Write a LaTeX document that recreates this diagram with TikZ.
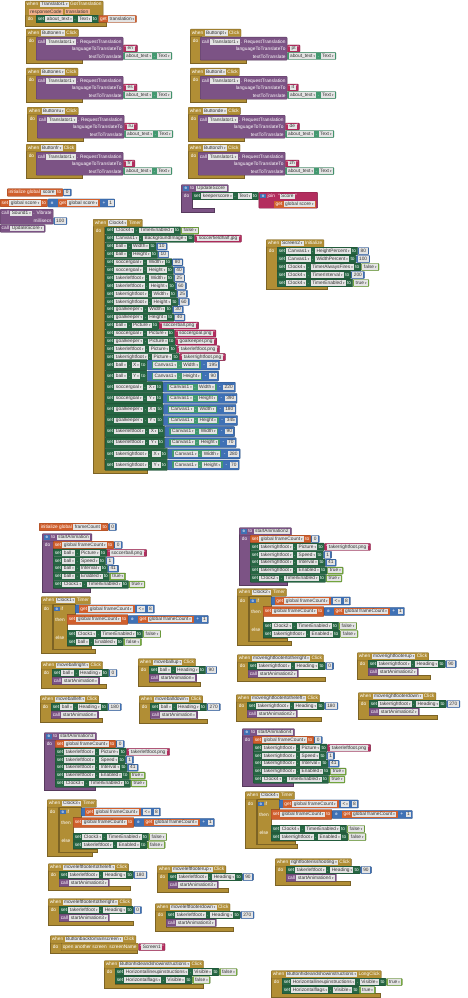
\documentclass[tikz,border=0pt]{standalone}
\usepackage{fontspec}
\usepackage{xcolor}
\usepackage{graphicx}
\usepackage{tikz}
\usetikzlibrary{positioning}
\newfontfamily\aifont{Liberation Sans}
\newfontfamily\dvsym{DejaVu Sans}
\definecolor{aievent}{HTML}{B18E35}
\definecolor{aiproc}{HTML}{7C5385}
\definecolor{aiset}{HTML}{266643}
\definecolor{aiget}{HTML}{439970}
\definecolor{aimath}{HTML}{3F71B5}
\definecolor{aitext}{HTML}{B32D5E}
\definecolor{ailogic}{HTML}{77AB41}
\definecolor{aivar}{HTML}{D05F2D}
\definecolor{aiparam}{HTML}{F2B089}
\definecolor{aifield}{HTML}{E4E4E4}
\definecolor{aifieldtx}{HTML}{333333}

% -- fields: with a dropdown arrow, plain, and a block nested inside a block
\newcommand{\fdd}[1]{{\setlength{\fboxsep}{0.5pt}\colorbox{aifield}{\hspace{1pt}\rule[-1pt]{0pt}{4.4pt}\textcolor{aifieldtx}{#1\hspace{1pt}{\dvsym\scalebox{0.6}{▾}}}\hspace{0.8pt}}}}
\newcommand{\fdv}[1]{{\setlength{\fboxsep}{0.5pt}\colorbox{aifield}{\hspace{1pt}\rule[-1pt]{0pt}{4.4pt}\textcolor{aifieldtx}{#1}\hspace{1pt}}}}
\newcommand{\inblk}[2]{{\setlength{\fboxsep}{0.8pt}\colorbox{#1}{\hspace{0.8pt}#2\hspace{0.8pt}}}}
\newcommand{\aigear}{\inblk{aimath}{\textcolor{white}{\dvsym\scalebox{0.7}{⚙}}}}
\newcommand{\opsp}{\hspace{2.5pt}}

% -- a hat block: column, bottom bar, header, "do"
%    #1 name, #2 x, #3 top, #4 bar right, #5 bottom, #6 y of do, #7 colour, #8 header
\newcommand{\whenblk}[8]{%
  \filldraw[#7, draw=#7!70!black, line width=0.3pt]
    ({#2},{#3+7}) -- ({#2+11},{#3+7}) -- ({#2+11},{#5-3.5}) -- ({#4},{#5-3.5})
    -- ({#4},{#5}) -- ({#2},{#5}) -- cycle;
  \node[hdr=#7] (#1) at ({#2},{#3}) {#8};
  \node[lbl] (#1do) at ({#2+5.5},{#6}) {do};}

% -- the eight translation buttons: name, x, top, button, language, bar right
\newcommand{\transblk}[6]{%
  \whenblk{#1}{#2}{#3}{#6}{#3+34}{#3+12}{aievent}{when \fdd{#4} Click}
  \node[stm=aiproc, anchor=north west, align=right, minimum height=23pt,
        font=\aifont\fontsize{4.8}{7.5}\selectfont] (#1c) at ({#2+10},{#3+8})
    {call \fdd{Translator1} . RequestTranslation\\ languageToTranslateTo\\ textToTranslate};
  \node[val=aitext] (#1l) at (#1c.east |- 0,{#3+19.5}) {“\fdv{#5}”};
  \node[val=aiget] (#1t) at (#1c.east |- 0,{#3+27}) {\fdd{about\_text} . \fdd{Text}};}

% -- heading buttons: set heading, call a procedure
\newcommand{\clickblk}[9]{%
  \whenblk{#1}{#2}{#3-11.5}{#4}{#5}{#3}{aievent}{when \fdd{#6} Click}
  \node[stm=aiset] (#1s) at ({#2+11},{#3}) {set \fdd{#7} . \fdd{Heading} to};
  \node[val=aimath, right=0pt of #1s] (#1v) {\fdv{#8}};
  \node[stm=aiproc] (#1p) at ({#2+11},{#3+7.9}) {call \fdd{#9}};}

% -- startAnimation procedures
\newcommand{\animblk}[9]{%
  \whenblk{#1}{#2}{#3-11.5}{#4}{#5}{#3}{aiproc}{\aigear\ to \fdv{#6}}
  \node[stm=aivar] (#1a) at ({#2+11},{#3}) {set \fdd{global frameCount} to};
  \node[val=aimath, right=0pt of #1a] (#1av) {\fdv{0}};
  \node[stm=aiset] (#1b) at ({#2+11},{#3+7.9}) {set \fdd{#7} . \fdd{Picture} to};
  \node[val=aitext, right=0pt of #1b] (#1bv) {“\fdv{#8}”};
  \node[stm=aiset] (#1c) at ({#2+11},{#3+15.8}) {set \fdd{#7} . \fdd{Speed} to};
  \node[val=aimath, right=0pt of #1c] (#1cv) {\fdv{1}};
  \node[stm=aiset] (#1e) at ({#2+11},{#3+23.7}) {set \fdd{#7} . \fdd{Interval} to};
  \node[val=aimath, right=0pt of #1e] (#1ev) {\fdv{41}};
  \node[stm=aiset] (#1f) at ({#2+11},{#3+31.6}) {set \fdd{#7} . \fdd{Enabled} to};
  \node[val=ailogic, right=0pt of #1f] (#1fv) {\fdd{true}};
  \node[stm=aiset] (#1g) at ({#2+11},{#3+39.5}) {set \fdd{#9} . \fdd{TimerEnabled} to};
  \node[val=ailogic, right=0pt of #1g] (#1gv) {\fdd{true}};}

% -- clock timers with the if / then / else
\newcommand{\timerblk}[6]{%
  \whenblk{#1}{#2}{#3-12.5}{#4}{#3+44}{#3}{aievent}{when \fdd{#5} Timer}
  \filldraw[aievent, draw=aievent!70!black, line width=0.3pt]
    ({#2+12},{#3-5}) -- ({#2+34},{#3-5}) -- ({#2+34},{#3+5}) -- ({#2+26},{#3+5})
    -- ({#2+26},{#3+37}) -- ({#2+50},{#3+37}) -- ({#2+50},{#3+40.5}) -- ({#2+12},{#3+40.5}) -- cycle;
  \node[lbl] (#1g) at ({#2+16},{#3}) {\aigear};
  \node[lbl, anchor=west] (#1if) at ({#2+19.5},{#3}) {if};
  \node[lbl] (#1th) at ({#2+19},{#3+10.5}) {then};
  \node[lbl] (#1el) at ({#2+19},{#3+29}) {else};
  \node[val=aimath] (#1k) at ({#2+34},{#3})
    {\opsp\inblk{aivar}{get \fdd{global frameCount}}\opsp\fdd{<}\opsp\fdv{8}};
  \node[stm=aivar, minimum height=10pt] (#1t) at ({#2+26},{#3+10.5}) {set \fdd{global frameCount} to};
  \node[val=aimath, right=0pt of #1t] (#1tv)
    {\aigear\opsp\inblk{aivar}{get \fdd{global frameCount}}\opsp+\opsp\fdv{1}\opsp};
  \node[stm=aiset] (#1e) at ({#2+26},{#3+25}) {set \fdd{#5} . \fdd{TimerEnabled} to};
  \node[val=ailogic, right=0pt of #1e] (#1ev) {\fdd{false}};
  \node[stm=aiset] (#1f) at ({#2+26},{#3+33}) {set \fdd{#6} . \fdd{Enabled} to};
  \node[val=ailogic, right=0pt of #1f] (#1fv) {\fdd{false}};}

\begin{document}
\spaceskip=1.9pt plus 0.5pt\relax
\begin{tikzpicture}[x=1pt, y=-1pt,
    stm/.style={fill=#1, draw=#1!70!black, line width=0.3pt, rounded corners=0.7pt,
                inner xsep=1.6pt, inner ysep=0.5pt, minimum height=7.6pt, anchor=west,
                text=white, font=\aifont\fontsize{4.8}{5.2}\selectfont},
    val/.style={stm=#1, inner xsep=1.2pt, minimum height=7pt},
    hdr/.style={stm=#1, anchor=north west, align=left},
    lbl/.style={text=white, inner sep=0pt, font=\aifont\fontsize{4.8}{5.2}\selectfont}]

  \path[use as bounding box, fill=white] (0,0) rectangle (468,998);

  % -- translation
  \whenblk{gt}{25}{1}{106}{26}{19}{aievent}{when \fdd{Translator1} GotTranslation\\[1pt]
    \hspace*{2pt}\inblk{aiparam}{\textcolor{aifieldtx}{responseCode}} \inblk{aiparam}{\textcolor{aifieldtx}{translation}}}
  \node[stm=aiset] (gts) at (36,19) {set \fdd{about\_text} . \fdd{Text} to};
  \node[val=aivar, right=0pt of gts] (gtv) {get \fdd{translation}};

  \transblk{ben}{26}{29}{Buttonen}{en}{82}
  \transblk{bes}{26}{68}{Buttones}{es}{82}
  \transblk{bru}{27}{107}{Buttonru}{ru}{83}
  \transblk{bfr}{26}{144}{Buttonfr}{fr}{82}
  \transblk{bpt}{190}{29}{Buttonpt}{pt}{246}
  \transblk{bit}{190}{68}{Buttonit}{it}{246}
  \transblk{bde}{188}{107}{Buttonde}{de}{244}
  \transblk{bzh}{188}{144}{Buttonzh}{zh}{244}

  % -- score
  \node[stm=aivar] (gsc) at (7,192.5) {initialize global \fdv{score} to};
  \node[val=aimath, right=0pt of gsc] (gscv) {\fdv{0}};
  \node[stm=aivar] (setsc) at (0,203) {set \fdd{global score} to};
  \node[val=aimath, right=0pt of setsc] (setscv)
    {\aigear\opsp\inblk{aivar}{get \fdd{global score}}\opsp+\opsp\fdv{1}\opsp};
  \node[stm=aiproc, anchor=north west, align=right, minimum height=15pt,
        font=\aifont\fontsize{4.8}{7.5}\selectfont] (vib) at (0,209) {call \fdd{Sound1} . Vibrate\\ millisecs};
  \node[val=aimath] (vibv) at (vib.east |- 0,221) {\fdv{100}};
  \node[stm=aiproc] (cupd) at (0,228.5) {call \fdd{UpdateScore}};

  \whenblk{upd}{181}{184.5}{214}{212}{196}{aiproc}{\aigear\ to \fdv{UpdateScore}}
  \node[stm=aiset] (upds) at (192,196) {set \fdd{keeperscore} . \fdd{Text} to};
  \node[val=aitext, anchor=north west, align=left, font=\aifont\fontsize{4.8}{8}\selectfont]
    (updv) at (upds.north east) {\aigear\ join \inblk{aitext}{“\fdv{Score}”}\\
    \hspace*{14pt}\inblk{aivar}{get \fdd{global score}}};

  % -- Clock4 sets up the field
  \whenblk{ck}{93}{219.2}{147}{473}{230.7}{aievent}{when \fdd{Clock4} Timer}
  \node[stm=aiset] (ck1) at (105,230.7) {set \fdd{Clock4} . \fdd{TimerEnabled} to};
  \node[val=ailogic, right=0pt of ck1] (ckv1) {\fdd{false}};
  \node[stm=aiset] (ck2) at (105,238.6) {set \fdd{Canvas1} . \fdd{BackgroundImage} to};
  \node[val=aitext, right=0pt of ck2] (ckv2) {“\fdv{soccerfieldhalf.jpg}”};
  \foreach \c/\p/\v [count=\i from 3] in {ball/Width/10, ball/Height/10, soccergoal/Width/80,
      soccergoal/Height/40, takerleftfoot/Width/25, takerleftfoot/Height/60,
      takerrightfoot/Width/25, takerrightfoot/Height/60, goalkeeper/Width/30, goalkeeper/Height/40}{
    \node[stm=aiset] (ck\i) at (105,{230.7+(\i-1)*7.9}) {set \fdd{\c} . \fdd{\p} to};
    \node[val=aimath, right=0pt of ck\i] (ckv\i) {\fdv{\v}};}
  \foreach \c [count=\i from 13] in {ball, soccergoal, goalkeeper, takerleftfoot, takerrightfoot}{
    \node[stm=aiset] (ck\i) at (105,{230.7+(\i-1)*7.9}) {set \fdd{\c} . \fdd{Picture} to};
    \node[val=aitext, right=0pt of ck\i] (ckv\i) {“\fdv{\ifnum\i=13 soccerball\else\c\fi.png}”};}
  \foreach \c/\a/\p/\v [count=\i from 18] in {ball/X/Width/195, ball/Y/Height/90,
      soccergoal/X/Width/220, soccergoal/Y/Height/390, goalkeeper/X/Width/180,
      goalkeeper/Y/Height/345, takerleftfoot/X/Width/90, takerleftfoot/Y/Height/70,
      takerrightfoot/X/Width/280, takerrightfoot/Y/Height/70}{
    \node[stm=aiset, minimum height=11pt] (ck\i) at (105,{365+(\i-18)*11.1}) {set \fdd{\c} . \fdd{\a} to};
    \node[val=aimath, right=0pt of ck\i, minimum height=10pt] (ckv\i)
      {\hspace{3pt}\inblk{aiget}{\fdd{Canvas1} . \fdd{\p}}\opsp-\opsp\fdv{\v}\opsp};}

  % -- Screen2
  \whenblk{scr}{266}{239.5}{327}{289}{251}{aievent}{when \fdd{Screen2} Initialize}
  \node[stm=aiset] (scr1) at (277,251) {set \fdd{Canvas1} . \fdd{HeightPercent} to};
  \node[val=aimath, right=0pt of scr1] (scrv1) {\fdv{80}};
  \node[stm=aiset] (scr2) at (277,259) {set \fdd{Canvas1} . \fdd{WidthPercent} to};
  \node[val=aimath, right=0pt of scr2] (scrv2) {\fdv{100}};
  \node[stm=aiset] (scr3) at (277,267) {set \fdd{Clock4} . \fdd{TimerAlwaysFires} to};
  \node[val=ailogic, right=0pt of scr3] (scrv3) {\fdd{false}};
  \node[stm=aiset] (scr4) at (277,275) {set \fdd{Clock4} . \fdd{TimerInterval} to};
  \node[val=aimath, right=0pt of scr4] (scrv4) {\fdv{200}};
  \node[stm=aiset] (scr5) at (277,283) {set \fdd{Clock4} . \fdd{TimerEnabled} to};
  \node[val=ailogic, right=0pt of scr5] (scrv5) {\fdd{true}};

  % -- animations
  \node[stm=aivar] (gfc) at (39,527) {initialize global \fdv{frameCount} to};
  \node[val=aimath, right=0pt of gfc] (gfcv) {\fdv{0}};

  \animblk{sa}{42}{545}{90}{592}{startAnimation}{ball}{soccerball.png}{Clock1}
  \animblk{sb}{239}{539}{287}{585}{startAnimation2}{takerrightfoot}{takerrightfoot.png}{Clock2}
  \animblk{sc}{44}{744}{95}{790}{startAnimation3}{takerleftfoot}{takerleftfoot.png}{Clock3}
  \animblk{sd}{242}{740}{293}{786}{startAnimation4}{takerrightfoot}{takerleftfoot.png}{Clock4}

  \timerblk{ta}{41}{609}{95}{Clock1}{ball}
  \timerblk{tb}{237}{601}{291}{Clock2}{takerrightfoot}
  \timerblk{tc}{47}{812}{92}{Clock3}{takerleftfoot}
  \timerblk{td}{245}{804}{297}{Clock4}{takerrightfoot}

  % -- heading buttons
  \clickblk{ma}{41}{673}{106}{688}{moveballright}{ball}{0}{startAnimation}
  \clickblk{mb}{138}{670}{200}{686}{moveballup}{ball}{90}{startAnimation}
  \clickblk{mc}{237}{666}{325}{681}{moverightfootertotheright}{takerrightfoot}{0}{startAnimation2}
  \clickblk{md}{357}{664}{430}{679}{moverightfooterup}{takerrightfoot}{90}{startAnimation2}
  \clickblk{me}{40}{707}{102}{722}{moveballleft}{ball}{180}{startAnimation}
  \clickblk{mf}{139}{707}{207}{723}{moveballdown}{ball}{270}{startAnimation}
  \clickblk{mg}{236}{706}{321}{721}{moverightfootertotheleft}{takerrightfoot}{180}{startAnimation2}
  \clickblk{mh}{358}{704}{437}{719}{moverightfooterdown}{takerrightfoot}{270}{startAnimation2}
  \clickblk{mi}{48}{875}{130}{890}{moveleftfootertotheleft}{takerleftfoot}{180}{startAnimation3}
  \clickblk{mj}{157}{877}{228}{892}{moveleftfooterup}{takerleftfoot}{90}{startAnimation3}
  \clickblk{mk}{275}{870}{350}{885}{rightfooterisshooting}{takerleftfoot}{90}{startAnimation4}
  \clickblk{ml}{48}{910}{133}{925}{moveleftfootertotheright}{takerleftfoot}{0}{startAnimation3}
  \clickblk{mm}{155}{915}{233}{931}{moveleftfooterdown}{takerleftfoot}{270}{startAnimation3}

  % -- screens and instructions
  \whenblk{bk}{50}{935.5}{137}{953}{947}{aievent}{when \fdd{Buttonbacktomainscreen} Click}
  \node[stm=aievent] (bks) at (61,947) {open another screen\ \ screenName};
  \node[val=aitext, right=0pt of bks] (bkv) {“\fdv{Screen1}”};

  \whenblk{hs}{104}{960.5}{203}{988}{972}{aievent}{when \fdd{Buttonhideandshowinstructions} Click}
  \node[stm=aiset] (hs1) at (115,972) {set \fdd{Horizontallineupinstructions} . \fdd{Visible} to};
  \node[val=ailogic, right=0pt of hs1] (hsv1) {\fdd{false}};
  \node[stm=aiset] (hs2) at (115,980) {set \fdd{Horizontalflags} . \fdd{Visible} to};
  \node[val=ailogic, right=0pt of hs2] (hsv2) {\fdd{false}};

  \whenblk{hl}{271}{970.5}{380}{997}{982}{aievent}{when \fdd{Buttonhideandshowinstructions} LongClick}
  \node[stm=aiset] (hl1) at (282,982) {set \fdd{Horizontallineupinstructions} . \fdd{Visible} to};
  \node[val=ailogic, right=0pt of hl1] (hlv1) {\fdd{true}};
  \node[stm=aiset] (hl2) at (282,990) {set \fdd{Horizontalflags} . \fdd{Visible} to};
  \node[val=ailogic, right=0pt of hl2] (hlv2) {\fdd{true}};
\end{tikzpicture}
\end{document}
